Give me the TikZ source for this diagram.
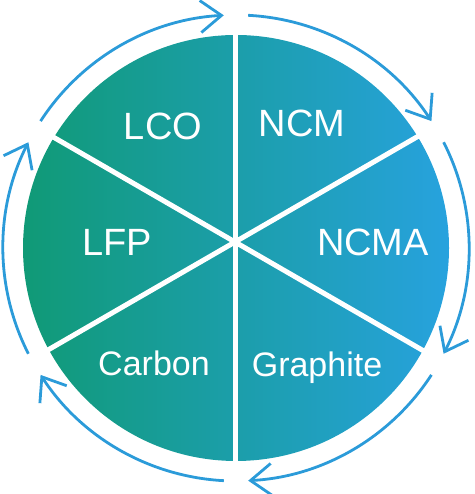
\documentclass[tikz,border=0pt]{standalone}
\usepackage{fontspec}
\setmainfont{Liberation Sans}
\usetikzlibrary{arrows.meta}
\definecolor{cellgreen}{HTML}{109A76}
\definecolor{cellblue}{HTML}{27A2DE}
\definecolor{ringblue}{HTML}{2B9BD9}
\tikzset{
  chem/.style={text=white, font=\fontsize{38}{38}\selectfont, anchor=base},
  chemsmall/.style={chem, font=\fontsize{34}{34}\selectfont},
  cycle/.style={ringblue, line width=2.8pt, -{Straight Barb[length=21pt,width=32pt]}}
}
\begin{document}
\begin{tikzpicture}[x=1pt,y=1pt]
\useasboundingbox (0,0) rectangle (474,494);
\coordinate (c) at (236,246);
\coordinate (hub) at (235,252);
\shade[left color=cellgreen, right color=cellblue] (c) circle (213);
\foreach \a in {30,90,...,330}
  \draw[white, line width=5pt] (hub) -- ++(\a:222);
% ring of arrows
\foreach \s in {147,87,...,-153}
  \draw[cycle] (c) ++(\s:233) arc[start angle=\s, end angle=\s-54, radius=233];
\node[chem] (lco) at (163,354) {LCO};
\node[chem] (ncm) at (302,357) {NCM};
\node[chem] (lfp) at (117,238) {LFP};
\node[chem] (ncma) at (373,238) {NCMA};
\node[chemsmall] (carbon) at (154,118) {Carbon};
\node[chemsmall] (graphite) at (317,117) {Graphite};
\end{tikzpicture}
\end{document}
